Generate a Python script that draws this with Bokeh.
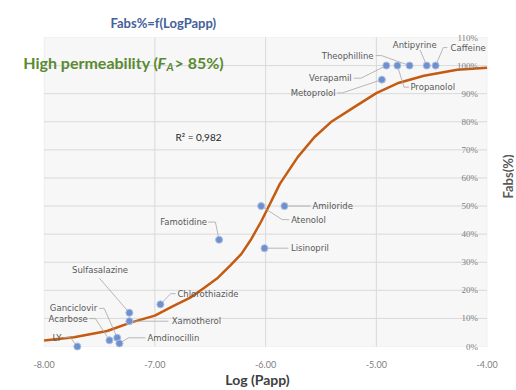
import math
from bokeh.plotting import figure
from bokeh.models import Label, LabelSet, ColumnDataSource, FixedTicker, Range1d, BoxAnnotation
from bokeh.embed import file_html
from bokeh.resources import INLINE
from bokeh.core.properties import value

# ---------------- data ----------------
drugs = ["LY", "Acarbose", "Ganciclovir", "Amdinocillin", "Sulfasalazine", "Xamotherol",
         "Chlorothiazide", "Famotidine", "Atenolol", "Lisinopril", "Amiloride", "Metoprolol",
         "Verapamil", "Propanolol", "Theophilline", "Antipyrine", "Caffeine"]
log_papp = [-7.70, -7.41, -7.34, -7.32, -7.23, -7.23, -6.95, -6.42, -6.04, -6.01, -5.83,
            -4.95, -4.91, -4.81, -4.70, -4.545, -4.465]
fabs_pct = [0, 2.2, 3.1, 1.1, 12, 9, 15, 38, 50, 35, 50, 95, 100, 100, 100, 100, 100]

fit_x = [-8.0, -7.73, -7.43, -7.22, -7.0, -6.84, -6.68, -6.55, -6.43, -6.32, -6.22, -6.13,
         -6.04, -5.97, -5.87, -5.71, -5.56, -5.41, -5.20, -5.0, -4.81, -4.57, -4.27, -4.0]
fit_y = [2.1, 3.3, 5.5, 8.5, 11.0, 14.3, 17.4, 21.0, 24.5, 28.8, 32.9, 38.2,
         44.5, 50.0, 58.0, 67.4, 74.5, 79.9, 85.2, 90.2, 93.7, 96.4, 98.5, 99.2]

x_ticks = [-8, -7, -6, -5, -4]
x_tick_labels = ["-8.00", "-7.00", "-6.00", "-5.00", "-4.00"]
y_ticks = [0, 10, 20, 30, 40, 50, 60, 70, 80, 90, 100, 110]
y_tick_labels = ["0%", "10%", "20%", "30%", "40%", "50%", "60%", "70%", "80%", "90%", "100%", "110%"]

title_text = "Fabs%=f(LogPapp)"
x_title = "Log (Papp)"
y_title = "Fabs(%)"
r2_text = "R\u00b2 = 0,982"

# ---------------- layout of data labels (pixel offsets from each point) ----------------
# name: (align, text dx, text dy, leader points [(dx, dy), ...]) ; dy positive = down
label_layout = {
    "LY": ("right", -16, -9, [(-14, -9), (-7, -9), (0, 0)]),
    "Acarbose": ("right", -21.6, -21.7, [(-20, -21.7), (-14, -21.7), (0, 0)]),
    "Ganciclovir": ("right", -20, -29.4, [(-18, -29.4), (-13, -29.4), (0, 0)]),
    "Amdinocillin": ("left", 28, -5.6, [(0, 0), (9, -5.6), (26, -5.6)]),
    "Sulfasalazine": ("center", -29.3, -43, [(-30, -34.6), (0, 0)]),
    "Xamotherol": ("left", 42.4, 0, [(0, 0), (39, 0)]),
    "Chlorothiazide": ("left", 17, -10.7, [(0, 0), (10.3, -10.7), (15.3, -10.7)]),
    "Famotidine": ("right", -12, -17.7, [(-11, -17.7), (-3.7, -17.7), (0, 0)]),
    "Atenolol": ("left", 30, 13.6, [(0, 0), (21, 13.6), (28, 13.6)]),
    "Lisinopril": ("left", 26.4, 0, [(0, 0), (24, 0)]),
    "Amiloride": ("left", 28, 0, [(0, 0), (26, 0)]),
    "Metoprolol": ("right", -46.3, 13.3, [(-44.6, 13.3), (-39.6, 13.3), (0, 0)]),
    "Verapamil": ("right", -34.6, 12.6, [(-32.6, 12.6), (-25.3, 12.6), (0, 0)]),
    "Propanolol": ("left", 13, 21.6, [(0, 0), (6.6, 21.6), (11.6, 21.6)]),
    "Theophilline": ("right", -36, -10, [(-34, -10), (-28, -10), (0, 0)]),
    "Antipyrine": ("center", -12, -20.7, [(-6.7, -15.7), (0, 0)]),
    "Caffeine": ("left", 15, -18, [(11.7, -18), (7.7, -18), (0, 0)]),
}

# ---------------- geometry ----------------
X0, X1 = -8, -4          # plot-area data extent
Y0, Y1 = 0, 110
AW, AH = 443, 309        # plot-area size in px
SX = AW / (X1 - X0)
SY = AH / (Y1 - Y0)
PL, PT, PB = 43.6, 37, 5  # frame margins around the plot area (px)
FW, FH = 514, PT + AH + PB

xr = Range1d(X0 - PL / SX, X0 - PL / SX + FW / SX)
yr = Range1d(Y0 - PB / SY, Y0 - PB / SY + FH / SY)

p = figure(frame_width=FW, frame_height=FH, x_range=xr, y_range=yr,
           output_backend="svg", toolbar_location=None,
           min_border_left=0, min_border_right=0, min_border_top=0, min_border_bottom=36)
p.background_fill_color = "white"
p.border_fill_color = "white"
p.outline_line_color = None
p.xgrid.visible = False
p.ygrid.visible = False
p.yaxis.visible = False

# plot area
p.add_layout(BoxAnnotation(left=X0, right=X1, bottom=Y0, top=Y1, fill_color="#F7F7F7",
                           fill_alpha=1, line_color="#D9D9D9", line_width=1, level="underlay"))
# grid lines from the tick lists
p.segment(x0=x_ticks[1:-1], x1=x_ticks[1:-1], y0=[Y0] * 3, y1=[Y1] * 3,
          line_color="#D9D9D9", line_width=1)
p.segment(x0=[X0] * (len(y_ticks) - 2), x1=[X1] * (len(y_ticks) - 2), y0=y_ticks[1:-1],
          y1=y_ticks[1:-1], line_color="#D9D9D9", line_width=1)

# x axis
ax = p.xaxis[0]
ax.bounds = (X0, X1)
ax.ticker = FixedTicker(ticks=x_ticks)
ax.major_label_overrides = {t: l for t, l in zip(x_ticks, x_tick_labels)}
ax.major_tick_line_color = None
ax.minor_tick_line_color = None
ax.axis_line_color = None
ax.major_label_text_font = "Lato"
ax.major_label_text_font_size = "9px"
ax.major_label_text_color = "#808080"
ax.major_label_standoff = 3
ax.axis_label = x_title
ax.axis_label_text_font = "Lato"
ax.axis_label_text_font_style = "bold"
ax.axis_label_text_font_size = "14px"
ax.axis_label_text_color = "#404040"
ax.axis_label_standoff = 0

# fitted curve
p.line(fit_x, fit_y, line_color="#C55A11", line_width=2.5, line_join="round")

# leader lines
xs, ys = [], []
for name, x, y in zip(drugs, log_papp, fabs_pct):
    pts = label_layout[name][3]
    xs.append([x + dx / SX for dx, dy in pts])
    ys.append([y - dy / SY for dx, dy in pts])
p.multi_line(xs, ys, line_color="#A6A6A6", line_width=0.8)

# points
p.scatter(log_papp, fabs_pct, size=7, fill_color="#6F90CC", line_color="#A9BEE3", line_width=1)

# data labels
lab_src = ColumnDataSource(dict(
    x=log_papp, y=fabs_pct, text=drugs,
    align=[label_layout[n][0] for n in drugs],
    dx=[label_layout[n][1] for n in drugs],
    dy=[label_layout[n][2] for n in drugs],
))
p.text(x="x", y="y", text="text", source=lab_src, x_offset="dx", y_offset="dy",
       text_align="align", text_baseline="middle", text_font=value("DejaVu Sans"),
       text_font_size="8.5px", text_color="#595959")

# y tick labels inside the plot area (right side)
ysrc = ColumnDataSource(dict(x=[X1] * len(y_ticks), y=y_ticks, text=y_tick_labels))
p.add_layout(LabelSet(x="x", y="y", text="text", source=ysrc, x_offset=-9,
                      text_align="right", text_baseline="middle", text_font="Lato",
                      text_font_size="9px", text_color="#808080"))

# titles and annotations (screen px relative to the frame's bottom-left corner)
def sy(page_y):
    return FH - page_y

p.add_layout(Label(x=110, y=sy(22), x_units="screen", y_units="screen", text=title_text,
                   text_font="Lato", text_font_style="bold", text_font_size="13px",
                   text_color="#44619A", text_baseline="middle"))
green = "#5A8A32"
GY = sy(61.7)
p.add_layout(Label(x=22.7, y=GY, x_units="screen", y_units="screen",
                   text="High permeability (", text_font="Lato", text_font_size="16px",
                   text_font_style="bold", text_color=green, text_baseline="middle"))
p.add_layout(Label(x=157, y=GY, x_units="screen", y_units="screen",
                   text="F", text_font="Lato", text_font_size="16px",
                   text_font_style="bold italic", text_color=green, text_baseline="middle"))
p.add_layout(Label(x=166, y=GY - 4, x_units="screen", y_units="screen",
                   text="A", text_font="Lato", text_font_size="11px",
                   text_font_style="bold italic", text_color=green, text_baseline="middle"))
p.add_layout(Label(x=174, y=GY, x_units="screen", y_units="screen",
                   text="> 85%)", text_font="Lato", text_font_size="16px",
                   text_font_style="bold", text_color=green, text_baseline="middle"))
p.add_layout(Label(x=175, y=sy(136.7), x_units="screen", y_units="screen", text=r2_text,
                   text_font="Lato", text_font_size="10px", text_color="#262626",
                   text_baseline="middle"))
p.add_layout(Label(x=507, y=sy(176), x_units="screen", y_units="screen", text=y_title,
                   angle=math.pi / 2, text_font="Lato", text_font_style="bold",
                   text_font_size="13px", text_color="#595959",
                   text_align="center", text_baseline="middle"))

open("out.html", "w").write(file_html(p, INLINE))
